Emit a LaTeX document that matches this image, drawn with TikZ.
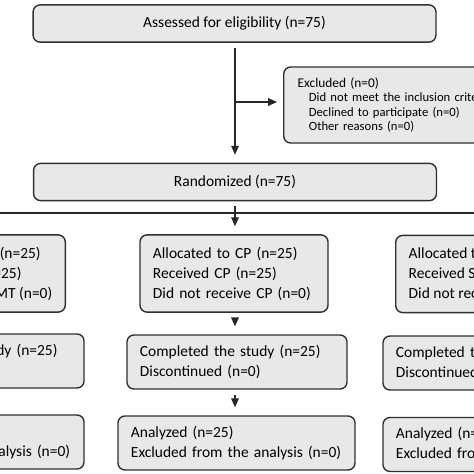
\documentclass[tikz,border=0pt]{standalone}
\usepackage{fontspec}
\setmainfont{Carlito}
\usetikzlibrary{positioning, arrows.meta, calc}

\definecolor{boxfill}{HTML}{E8E8E8}
\definecolor{boxline}{HTML}{303030}

\begin{document}
\begin{tikzpicture}[
  x=0.025cm, y=-0.025cm,
  >={Triangle[length=2.2mm, width=1.9mm]},
  box/.style={rectangle, draw=boxline, rounded corners=5pt, fill=boxfill,
    line width=1pt, inner ysep=0pt, font=\fontsize{11}{14.2}\selectfont},
  wide/.style={box, minimum width=10.07cm, minimum height=0.93cm},
  arm/.style={box, align=left, inner xsep=0.325cm, text width=#1},
  arm/.default={4.05cm},
  outer/.style={box, align=left, inner xsep=0.325cm},
  side/.style={box, align=left, inner xsep=0.35cm, text width=7cm,
    minimum height=1.9cm, font=\fontsize{9}{10.2}\selectfont},
  arr/.style={->, line width=0.8pt, black!85, shorten <=0.12cm, shorten >=0.2cm},
  link/.style={line width=0.8pt, black!85},
]
\useasboundingbox (0,0) rectangle (474,474);

% --- Enrolment ---
\node[wide] (assess) at (234.5, 23.5) {Assessed for eligibility (n=75)};
\node[side, anchor=west] (excl) at (283, 105) {%
  {\fontsize{9.5}{10.2}\selectfont Excluded (n=0)}\\
  \hspace*{0.28cm}Did not meet the inclusion criteria (n=0)\\
  \hspace*{0.28cm}Declined to participate (n=0)\\
  \hspace*{0.28cm}Other reasons (n=0)};
\node[wide] (rand) at (235, 182) {Randomized (n=75)};

\coordinate (branch) at (235, 102);
\coordinate (split) at (235, 213);

% --- Allocation ---
\node[outer, minimum height=1.93cm, anchor=east] (alloc1) at (66, 273.5) {%
  Allocated to SMT (n=25)\\ Received SMT (n=25)\\ Did not receive SMT (n=0)};
\node[arm, minimum height=1.93cm] (alloc2) at (234, 273.5) {%
  Allocated to CP (n=25)\\ Received CP (n=25)\\ Did not receive CP (n=0)};
\node[outer, minimum height=1.93cm, anchor=west] (alloc3) at (395, 274) {%
  Allocated to SMT+CP (n=25)\\ Received SMT+CP (n=25)\\ Did not receive SMT+CP (n=0)};

% --- Follow-up ---
\node[arm=4.85cm, minimum height=1.35cm] (follow1) at (-26, 361) {%
  Completed the study (n=25)\\ Discontinued (n=0)};
\node[arm=4.85cm, minimum height=1.35cm] (follow2) at (237, 362) {%
  Completed the study (n=25)\\ Discontinued (n=0)};
\node[arm=4.85cm, minimum height=1.35cm] (follow3) at (493, 363) {%
  Completed the study (n=25)\\ Discontinued (n=0)};

% --- Analysis ---
\node[arm=5.275cm, minimum height=1.35cm] (anal1) at (-34.5, 442) {%
  Analyzed (n=25)\\ Excluded from the analysis (n=0)};
\node[arm=5.275cm, minimum height=1.35cm] (anal2) at (236.5, 443) {%
  Analyzed (n=25)\\ Excluded from the analysis (n=0)};
\node[arm=5.275cm, minimum height=1.35cm] (anal3) at (501.5, 444.5) {%
  Analyzed (n=25)\\ Excluded from the analysis (n=0)};

% --- Connectors ---
\draw[arr] (assess.south -| branch) -- (rand.north -| branch);
\draw[arr, shorten <=0pt, shorten >=0.15cm] (branch) -- (excl.west |- branch);
\draw[link] (alloc1.north |- split) -- (alloc3.north |- split);
\draw[arr] (rand.south -| split) -- (alloc2.north -| split);
\draw[arr] (alloc2.south -| split) -- (follow2.north -| split);
\draw[arr] (follow2.south -| split) -- (anal2.north -| split);

\end{tikzpicture}
\end{document}
